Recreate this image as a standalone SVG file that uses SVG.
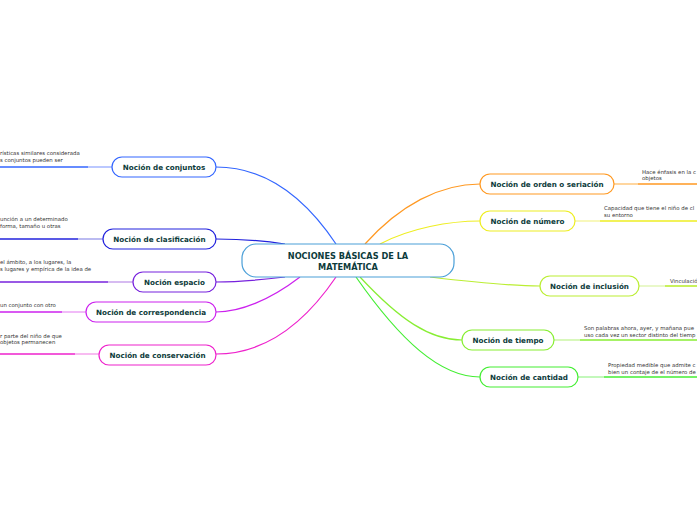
<svg xmlns="http://www.w3.org/2000/svg" width="697" height="520" viewBox="0 0 697 520">
<style>
.n{fill:#fff;stroke-width:1.2}
.t{font-family:Verdana,"DejaVu Sans",sans-serif;font-size:7.2px;font-weight:bold;fill:#0d3b3b;text-anchor:middle}
.s{font-family:Verdana,"DejaVu Sans",sans-serif;font-size:5.4px;fill:#333}
.c{fill:none;stroke-width:1.2}
.u{stroke-width:1.6}
</style>
<rect width="697" height="520" fill="#fff"/>
<g id="connectors">
<path class="c" stroke="#3366ff" d="M336,244 C300,190 260,167 216,167"/>
<path class="c" stroke="#2222dd" d="M285,244 C260,240 240,239 216,239"/>
<path class="c" stroke="#7722dd" d="M285,277 C260,280 240,282 216,282"/>
<path class="c" stroke="#cc22ee" d="M300,277 C270,300 240,312 216,312"/>
<path class="c" stroke="#ee22cc" d="M336,277 C300,330 260,354 216,354"/>
<path class="c" stroke="#ff9922" d="M365,244 C400,205 440,184 480,184"/>
<path class="c" stroke="#eeee22" d="M380,244 C410,228 450,221 480,221"/>
<path class="c" stroke="#bbee33" d="M430,277 C480,283 510,286 540,286"/>
<path class="c" stroke="#88ee33" d="M360,277 C400,320 430,340 462,340"/>
<path class="c" stroke="#44ee33" d="M356,277 C400,340 440,377 480,377"/>
<line class="u" stroke="#3366ff" x1="0" y1="167" x2="88" y2="167"/><line class="u" stroke="#aabbff" x1="88" y1="167" x2="112" y2="167"/>
<line class="u" stroke="#2222dd" x1="0" y1="239" x2="78" y2="239"/><line class="u" stroke="#aaaaee" x1="78" y1="239" x2="103" y2="239"/>
<line class="u" stroke="#7722dd" x1="0" y1="282" x2="108" y2="282"/><line class="u" stroke="#ccaaee" x1="108" y1="282" x2="133" y2="282"/>
<line class="u" stroke="#cc22ee" x1="0" y1="312" x2="62" y2="312"/><line class="u" stroke="#eeaaf7" x1="62" y1="312" x2="86" y2="312"/>
<line class="u" stroke="#ee22cc" x1="0" y1="354" x2="75" y2="354"/><line class="u" stroke="#f7aaee" x1="75" y1="354" x2="99" y2="354"/>
<line class="u" stroke="#ffcc88" x1="614" y1="184" x2="638" y2="184"/><line class="u" stroke="#ff9922" x1="638" y1="184" x2="697" y2="184"/>
<line class="u" stroke="#f7f7aa" x1="575" y1="221" x2="600" y2="221"/><line class="u" stroke="#eeee22" x1="600" y1="221" x2="697" y2="221"/>
<line class="u" stroke="#e4f7bb" x1="639" y1="286" x2="665" y2="286"/><line class="u" stroke="#bbee33" x1="665" y1="286" x2="697" y2="286"/>
<line class="u" stroke="#cff7aa" x1="554" y1="340" x2="580" y2="340"/><line class="u" stroke="#88ee33" x1="580" y1="340" x2="697" y2="340"/>
<line class="u" stroke="#b4f7aa" x1="578" y1="377" x2="604" y2="377"/><line class="u" stroke="#44ee33" x1="604" y1="377" x2="697" y2="377"/>
</g>
<g id="center"><rect x="242" y="244" width="212" height="33" rx="14" fill="#fff" stroke="#4a9fd8" stroke-width="1.2"/>
<text class="t" x="348" y="258.5" style="font-size:8.2px">NOCIONES BÁSICAS DE LA</text><text class="t" x="348" y="269.5" style="font-size:8.2px">MATEMÁTICA</text></g>
<g id="conjuntos"><rect class="n" stroke="#3366ff" x="112" y="157" width="104" height="20" rx="10"/><text class="t" x="164" y="169.5">Noción de conjuntos</text>
<text class="s" x="0" y="155">rísticas similares considerada</text><text class="s" x="0" y="162">s conjuntos pueden ser</text></g>
<g id="clasificacion"><rect class="n" stroke="#2222dd" x="103" y="229" width="113" height="20" rx="10"/><text class="t" x="159.5" y="241.5">Noción de clasificación</text>
<text class="s" x="0" y="221">unción a un determinado</text><text class="s" x="0" y="228">forma, tamaño u otras</text></g>
<g id="espacio"><rect class="n" stroke="#7722dd" x="133" y="272" width="83" height="20" rx="10"/><text class="t" x="174.5" y="284.5">Noción espacio</text>
<text class="s" x="0" y="264">el ámbito, a los lugares, la</text><text class="s" x="0" y="271">s lugares y empírica de la idea de</text></g>
<g id="correspondencia"><rect class="n" stroke="#cc22ee" x="86" y="302" width="130" height="20" rx="10"/><text class="t" x="151" y="314.5">Noción de correspondencia</text>
<text class="s" x="0" y="307">un conjunto con otro</text></g>
<g id="conservacion"><rect class="n" stroke="#ee22cc" x="99" y="345" width="117" height="20" rx="10"/><text class="t" x="157.5" y="357.5">Noción de conservación</text>
<text class="s" x="0" y="338">r parte del niño de que</text><text class="s" x="0" y="344">objetos permanecen</text></g>
<g id="orden"><rect class="n" stroke="#ff9922" x="480" y="174" width="134" height="20" rx="10"/><text class="t" x="547" y="186.5">Noción de orden o seriación</text>
<text class="s" x="642" y="174">Hace énfasis en la c</text><text class="s" x="642" y="180">objetos</text></g>
<g id="numero"><rect class="n" stroke="#eeee22" x="480" y="211" width="95" height="20" rx="10"/><text class="t" x="527.5" y="223.5">Noción de número</text>
<text class="s" x="604" y="210">Capacidad que tiene el niño de cl</text><text class="s" x="604" y="217">su entorno</text></g>
<g id="inclusion"><rect class="n" stroke="#bbee33" x="540" y="276" width="99" height="20" rx="10"/><text class="t" x="589.5" y="288.5">Noción de inclusión</text>
<text class="s" x="670" y="283">Vinculació</text></g>
<g id="tiempo"><rect class="n" stroke="#88ee33" x="462" y="330" width="92" height="20" rx="10"/><text class="t" x="508" y="342.5">Noción de tiempo</text>
<text class="s" x="584" y="330">Son palabras ahora, ayer, y mañana pue</text><text class="s" x="584" y="337">uso cada vez un sector distinto del tiemp</text></g>
<g id="cantidad"><rect class="n" stroke="#44ee33" x="480" y="367" width="98" height="20" rx="10"/><text class="t" x="529" y="379.5">Noción de cantidad</text>
<text class="s" x="608" y="367">Propiedad medible que admite c</text><text class="s" x="608" y="374">bien un contaje de el número de</text></g>
</svg>
